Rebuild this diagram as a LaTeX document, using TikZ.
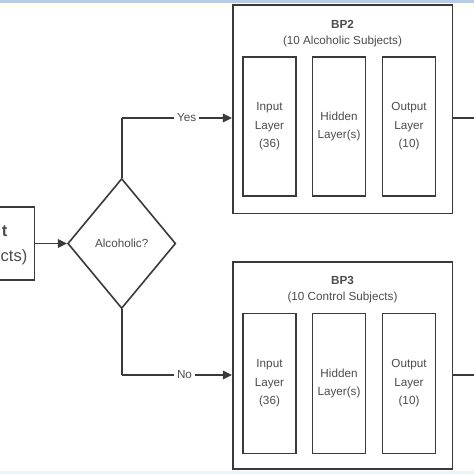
\documentclass[tikz,border=0pt]{standalone}
\usepackage{fontspec}
\setmainfont{Liberation Sans}
\usetikzlibrary{shapes.geometric,arrows.meta}
\definecolor{linec}{HTML}{3A3A3A}
\definecolor{textc}{HTML}{4C4C4C}
\definecolor{bandblue}{HTML}{B8CCE4}
\definecolor{bandcream}{HTML}{FFFDF2}
\definecolor{bandcyan}{HTML}{E8F6FA}
\tikzset{
  outerbox/.style={draw=linec, line width=1.6pt, minimum width=219.6pt, minimum height=208.6pt, inner sep=0pt},
  layerbox/.style={draw=linec, line width=1.6pt, minimum width=53pt, minimum height=139pt, inner sep=0pt, align=center, text=textc, font=\fontsize{11.7}{18.5}\selectfont},
  titletxt/.style={text=textc, font=\fontsize{11.7}{14}\selectfont\bfseries, inner sep=0pt},
  subtxt/.style={text=textc, font=\fontsize{11.7}{14}\selectfont, inner sep=0pt},
  decision/.style={draw=linec, line width=1.6pt, diamond, minimum width=108pt, minimum height=130pt, inner sep=0pt, text=textc, font=\fontsize{11.7}{14}\selectfont},
  conn/.style={draw=linec, line width=1.6pt},
  arr/.style={conn, -{Triangle[length=9pt,width=8.5pt]}},
  lbl/.style={fill=white, text=textc, font=\fontsize{11.7}{14}\selectfont, inner xsep=3pt, inner ysep=2pt},
  srcbox/.style={draw=linec, line width=1.6pt, minimum width=54.6pt, minimum height=73.3pt, inner sep=0pt},
  srctxt/.style={text=textc, font=\fontsize{16.5}{19}\selectfont, inner sep=0pt}
}
\begin{document}
\begin{tikzpicture}[x=1pt,y=-1pt]
\useasboundingbox (0,0) rectangle (474,474);
\clip (0,0) rectangle (474,474);
\fill[white] (0,0) rectangle (474,474);
\fill[bandblue] (0,0) rectangle (474,2.5);
\fill[bandcream] (0,2.5) rectangle (474,7);
\fill[bandcyan] (0,471) rectangle (474,474);

% source box (cut at left edge)
\node[srcbox] (src) at (7,243.5) {};
\node[srctxt, anchor=base east] (srct) at (7.5,236) {\bfseries t};
\node[srctxt, anchor=base east] (srcc) at (27.5,261) {cts)};

% decision
\node[decision] (dia) at (121.7,243.5) {Alcoholic?};

% BP2
\node[outerbox] (bp2) at (342.5,109) {};
\node[titletxt] (bp2t) at (342.5,24) {BP2};
\node[subtxt] (bp2s) at (342.5,41) {(10 Alcoholic Subjects)};
\node[layerbox] (in2) at (269.5,126.5) {Input\\Layer\\(36)};
\node[layerbox] (hid2) at (339,126.5) {Hidden\\Layer(s)};
\node[layerbox] (out2) at (409,126.5) {Output\\Layer\\(10)};

% BP3
\node[outerbox, minimum height=206.7pt] (bp3) at (342.5,365.35) {};
\node[titletxt] (bp3t) at (342.5,280) {BP3};
\node[subtxt] (bp3s) at (342.5,297.3) {(10 Control Subjects)};
\node[layerbox, minimum height=140pt] (in3) at (269.5,383.3) {Input\\Layer\\(36)};
\node[layerbox, minimum height=140pt] (hid3) at (339,383.3) {Hidden\\Layer(s)};
\node[layerbox, minimum height=140pt] (out3) at (409,383.3) {Output\\Layer\\(10)};

% connectors
\coordinate (ycorner) at (121.7,118);
\coordinate (ncorner) at (121.7,375);
\coordinate (r2) at (474,118);
\coordinate (r3) at (474,375);

\draw[arr] (src.east |- dia.west) -- (dia.west);
\draw[conn] (dia.north) -- (ycorner);
\draw[arr] (ycorner) -- node[lbl, pos=0.59] {Yes} (ycorner -| bp2.west);
\draw[conn] (dia.south) -- (ncorner);
\draw[arr] (ncorner) -- node[lbl, pos=0.57] {No} (ncorner -| bp3.west);
\draw[conn] (r2 -| bp2.east) -- (r2);
\draw[conn] (r3 -| bp3.east) -- (r3);
\end{tikzpicture}
\end{document}
